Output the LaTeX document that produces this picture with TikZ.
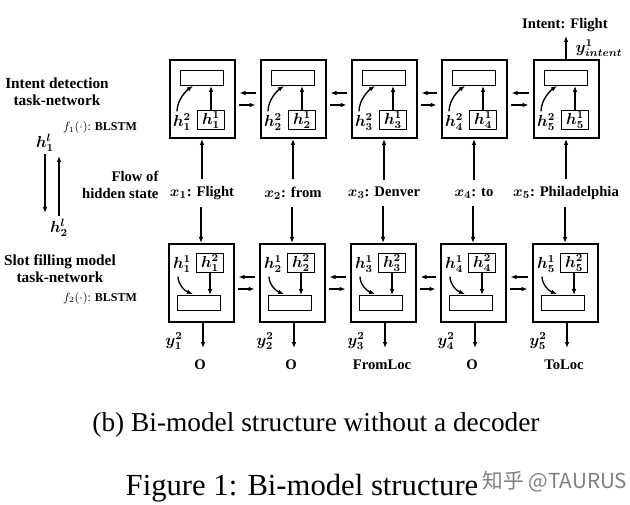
\documentclass[tikz,border=0pt]{standalone}
\usepackage{amsmath,bm}
\usepackage{fontspec}
\setmainfont{Liberation Serif}
\newfontfamily\cjk{Noto Sans CJK SC}
\usetikzlibrary{arrows.meta,calc}
\begin{document}
\begin{tikzpicture}[x=0.75pt,y=0.75pt,yscale=-1,
  cell/.style={draw,line width=1.5pt,minimum width=48.75pt,minimum height=58.5pt,inner sep=0},
  inrect/.style={draw,line width=1pt,minimum width=32pt,minimum height=11pt,inner sep=0},
  hbox/.style={draw,line width=1pt,minimum width=20pt,minimum height=14.5pt,inner sep=0.5pt,font=\fontsize{11.5}{12}\selectfont},
  mlab/.style={inner sep=0,font=\fontsize{11.5}{12}\selectfont},
  arr/.style={line width=1pt,-{Latex[length=4.5pt,width=3.5pt]}},
  lab/.style={font=\bfseries\fontsize{11}{13}\selectfont,inner sep=1pt}]
\useasboundingbox (0,0) rectangle (630,505);

\foreach \i/\x/\w/\o in {1/202/Flight/O,2/293/from/O,3/384/Denver/FromLoc,4/474/to/O,5/566/Philadelphia/ToLoc}{
  % intent cell
  \node[cell] (top\i) at (\x,99) {};
  \node[inrect] (tr\i) at (\x,78) {};
  \node[hbox] (tb\i) at (\x+9,120) {$\bm{h^1_\i}$};
  \node[mlab] (tl\i) at (\x-20,122) {$\bm{h^2_\i}$};
  \draw[arr] (tb\i.north) -- (tr\i.south-|tb\i.north);
  \draw[arr] ($(tl\i.north)+(-5,-2)$) .. controls +(0,-12) and +(-6,4) .. ($(tr\i.south)+(-9,0)$);
  % slot cell
  \node[cell] (bot\i) at (\x-1,283) {};
  \node[hbox] (bb\i) at (\x+8,263) {$\bm{h^2_\i}$};
  \node[mlab] (bl\i) at (\x-20,264) {$\bm{h^1_\i}$};
  \node[inrect] (br\i) at (\x-3,303) {};
  \draw[arr] (bb\i.south) -- (br\i.north-|bb\i.south);
  \draw[arr] ($(bl\i.south)+(-4,4)$) .. controls +(0,8) and +(-8,-3) .. ($(br\i.north)+(-6,-1)$);
  % input word
  \node[lab] (x\i) at (\x,193) {$\bm{x_\i}$: \w};
  \draw[arr] (x\i.north-|top\i.south) ++(0,-6) -- (top\i.south);
  \draw[arr] (x\i.south-|bot\i.north) ++(0,6) -- (bot\i.north);
  % output
  \coordinate (o\i) at (\x+1,348);
  \draw[arr] (bot\i.south-|o\i) -- (o\i);
  \node[mlab] (y\i) at (\x-28,341) {$\bm{y^2_\i}$};
  \node[lab] (w\i) at (\x-2,365) {\o};
}
\foreach \a/\b in {1/2,2/3,3/4,4/5}{
  \draw[arr] ([yshift=4.5pt]top\a.east) ++(3,0) -- ([yshift=4.5pt,xshift=-3pt]top\b.west);
  \draw[arr] ([yshift=-4.5pt,xshift=-3pt]top\b.west) -- ([yshift=-4.5pt,xshift=3pt]top\a.east);
  \draw[arr] ([yshift=4.5pt]bot\a.east) ++(3,0) -- ([yshift=4.5pt,xshift=-3pt]bot\b.west);
  \draw[arr] ([yshift=-4.5pt,xshift=-3pt]bot\b.west) -- ([yshift=-4.5pt,xshift=3pt]bot\a.east);
}
% intent output
\node[lab] (intent) at (565,25) {Intent: Flight};
\draw[arr] (top5.north) -- (566,36);
\node[mlab] (yint) at (599,48) {$\bm{y^1_{intent}}$};

% left labels
\node[lab,align=center,font=\bfseries\fontsize{11.5}{13}\selectfont] (idn) at (57,92) {Intent detection\\task-network};
\node[inner sep=0,font=\fontsize{9}{10}\selectfont] (f1) at (100,128) {$f_1(\cdot)$: \textbf{BLSTM}};
\node[mlab] (hl1) at (45,143) {$\bm{h^l_1}$};
\node[mlab] (hl2) at (59,228) {$\bm{h^l_2}$};
\coordinate (d1) at (45,213);
\coordinate (u1) at (59,156);
\draw[arr] (hl1.south) ++(0,2) -- (d1);
\draw[arr] (hl2.north) ++(0,-3) -- (u1);
\node[lab,align=right,anchor=east] (flow) at (160,185) {Flow of\\hidden state};
\node[lab,fill=white,inner sep=2pt] at (x1) {$\bm{x_1}$: Flight};
\node[lab,align=center,font=\bfseries\fontsize{11.5}{13}\selectfont] (sfn) at (60,269) {Slot filling model\\task-network};
\node[inner sep=0,font=\fontsize{9}{10}\selectfont] (f2) at (100,298) {$f_2(\cdot)$: \textbf{BLSTM}};

% captions
\node[font=\fontsize{20.5}{22}\selectfont] (cap1) at (316,425) {(b) Bi-model structure without a decoder};
\node[font=\fontsize{23}{26}\selectfont] (cap2) at (302,488) {Figure 1: Bi-model structure};
\node[text=gray,font=\cjk\fontsize{15.5}{17}\selectfont] (wm) at (555,482) {知乎 @TAURUS};
\end{tikzpicture}
\end{document}
